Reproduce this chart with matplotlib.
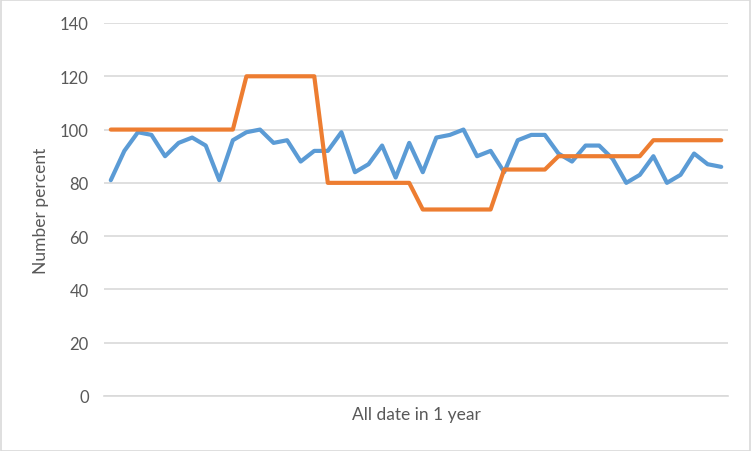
import matplotlib
matplotlib.use("Agg")
import matplotlib.pyplot as plt
from matplotlib.patches import Rectangle

# daily values (46 points)
blue_values = [81, 92, 99, 98, 90, 95, 97, 94, 81, 96,
               99, 100, 95, 96, 88, 92, 92, 99, 84, 87,
               94, 82, 95, 84, 97, 98, 100, 90, 92, 84,
               96, 98, 98, 91, 88, 94, 94, 89, 80, 83,
               90, 80, 83, 91, 87, 86]
orange_values = [100, 100, 100, 100, 100, 100, 100, 100, 100, 100,
                 120, 120, 120, 120, 120, 120,
                 80, 80, 80, 80, 80, 80, 80,
                 70, 70, 70, 70, 70, 70,
                 85, 85, 85, 85,
                 90, 90, 90, 90, 90, 90, 90,
                 96, 96, 96, 96, 96, 96]
y_ticks = [0, 20, 40, 60, 80, 100, 120, 140]

plt.rcParams['font.family'] = ['Lato', 'DejaVu Sans']
text_color = '#595959'
grid_color = '#D9D9D9'

fig = plt.figure(figsize=(7.52, 4.52), dpi=100)
ax = fig.add_axes([104 / 752, 1 - 397 / 452, 624 / 752, 373 / 452])

x = list(range(len(blue_values)))
ax.plot(x, blue_values, color='#5B9BD5', lw=3.0, solid_capstyle='round', solid_joinstyle='round', zorder=3)
ax.plot(x, orange_values, color='#ED7D31', lw=3.0, solid_capstyle='round', solid_joinstyle='round', zorder=3)

ax.set_xlim(-0.5, len(blue_values) - 0.5)
ax.set_ylim(0, 140)
ax.set_yticks(y_ticks)
ax.set_xticks([])
ax.yaxis.grid(True, color=grid_color, lw=1.2)
ax.set_axisbelow(True)
for s in ['top', 'right', 'left']:
    ax.spines[s].set_visible(False)
ax.spines['bottom'].set_color(grid_color)
ax.spines['bottom'].set_linewidth(1.2)
ax.tick_params(axis='y', length=0, pad=11, labelsize=12, labelcolor=text_color)

ax.set_ylabel('Number percent', fontsize=12.5, color=text_color, labelpad=8)
ax.set_xlabel('All date in 1 year', fontsize=12.5, color=text_color, labelpad=7)

fig.patches.append(Rectangle((0.001, 0.001), 0.997, 0.996, transform=fig.transFigure,
                             fill=False, edgecolor=grid_color, lw=1.2))

fig.savefig('out.png', dpi=100, facecolor='white')
